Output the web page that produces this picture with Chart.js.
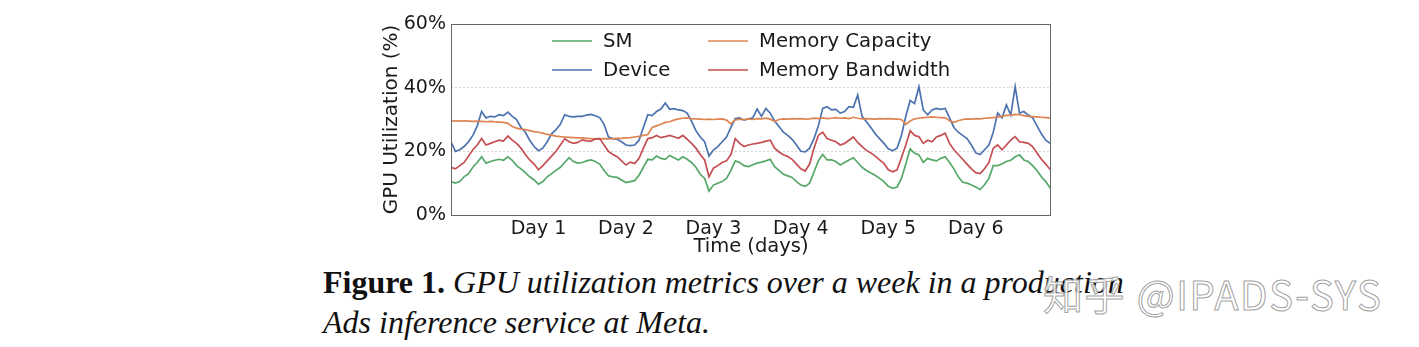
<!DOCTYPE html>
<html>
<head>
<meta charset="utf-8">
<script src="https://cdn.jsdelivr.net/npm/chart.js@4.4.1/dist/chart.umd.min.js"></script>
<style>
  html, body { margin: 0; padding: 0; background: #fff; width: 1419px; height: 347px; overflow: hidden; }
  #wrap { position: absolute; left: 360px; top: 0; width: 700px; height: 262px; }
  #legend { position: absolute; left: 0; top: 0; width: 1419px; height: 100px; pointer-events: none;
            font-family: "DejaVu Sans", sans-serif; font-size: 19.7px; color: #1a1a1a; }
  .li { position: absolute; white-space: nowrap; line-height: 22px; height: 22px; }
  .sw { position: absolute; left: 0; top: 10px; width: 40px; height: 1.6px; opacity: 0.75; }
  .lt { position: absolute; left: 51px; top: 0; }
  #caption { position: absolute; left: 323px; top: 262px; font-family: "Liberation Serif", "DejaVu Serif", serif;
             font-size: 32px; line-height: 40px; color: #111; white-space: nowrap; }
  #caption b { font-weight: bold; font-style: normal; }
  #caption i { font-style: italic; }
  #wm { position: absolute; left: 1043px; top: 264px; font-size: 40px; white-space: nowrap;
        font-family: "Noto Sans CJK SC", "DejaVu Sans", sans-serif; color: rgba(255,255,255,0.85);
        -webkit-text-stroke: 1px rgba(150,150,150,0.9); letter-spacing: 1.6px; }
</style>
</head>
<body>
<div id="wrap"><canvas id="c" width="700" height="262"></canvas></div>
<div id="legend"></div>
<div id="caption"><b>Figure 1.</b> <i>GPU utilization metrics over a week in a production</i><br><i>Ads inference service at Meta.</i></div>
<div id="wm">知乎 @IPADS-SYS</div>
<script>
// Sample times (days), step 0.05
const timeDays = [
  0,0.05,0.1,0.15,0.2,0.25,0.3,0.35,0.4,0.45,0.5,0.55,0.6,0.65,0.7,0.75,0.8,0.85,0.9,0.95,
  1,1.05,1.1,1.15,1.2,1.25,1.3,1.35,1.4,1.45,1.5,1.55,1.6,1.65,1.7,1.75,1.8,1.85,1.9,1.95,
  2,2.05,2.1,2.15,2.2,2.25,2.3,2.35,2.4,2.45,2.5,2.55,2.6,2.65,2.7,2.75,2.8,2.85,2.9,2.95,
  3,3.05,3.1,3.15,3.2,3.25,3.3,3.35,3.4,3.45,3.5,3.55,3.6,3.65,3.7,3.75,3.8,3.85,3.9,3.95,
  4,4.05,4.1,4.15,4.2,4.25,4.3,4.35,4.4,4.45,4.5,4.55,4.6,4.65,4.7,4.75,4.8,4.85,4.9,4.95,
  5,5.05,5.1,5.15,5.2,5.25,5.3,5.35,5.4,5.45,5.5,5.55,5.6,5.65,5.7,5.75,5.8,5.85,5.9,5.95,
  6,6.05,6.1,6.15,6.2,6.25,6.3,6.35,6.4,6.45,6.5,6.55,6.6,6.65,6.7,6.75,6.8,6.85
];

const smUtil = [
  10.5,10,10.5,12,13,15,16.5,18.3,16.3,16.8,17.2,17.5,17.2,18.3,17.2,15.5,14.5,13.3,12,11,
  9.7,10.5,12,13,14,15,16.5,18,16.8,16.3,16.5,17,17.3,16.8,16,14,12.3,12,11.8,11,
  10.2,10.5,10.8,12.5,15,17.5,17.3,18.5,17.8,17.5,18.7,18,17.3,18.3,17.5,16.5,15,12.8,11.5,7.5,
  9.4,10,10.5,11.5,14,17,16.5,15.5,15.2,15.8,16.3,16.6,17,17.5,15.2,14,12.8,12.3,11.8,10.5,
  9.4,9,10,13.5,17,19,17.3,17.3,16.8,15.7,16.5,17.3,18,16.5,15,14,13.2,12.5,11.5,10.5,
  9,8.4,8.8,11.5,16,20.8,19.4,18.9,16.5,17.8,17.3,17,17.8,18.3,16.5,14.5,12,10.3,10,9.4,
  8.8,8,9.5,11.5,15.5,15.5,16,16.8,17.2,18.3,18.9,17.3,16.8,15.5,14,12,10.5,8.5
];

const deviceUtil = [
  23,20,20.5,21.5,23,25,28,32.5,30.5,31,30.8,31.5,31.2,32.3,31,30,27.5,26,23.5,21.5,
  20.2,21,23,25.5,26.8,28.5,31.5,31,30.8,31,31,31.4,31.6,31.2,30.6,28.5,24.5,24,23.8,23,
  22,21.8,22,23.5,27.5,31.5,31.2,32.5,33.3,35.2,33.2,33.4,33,32.8,32,29.5,26.5,24.5,23,18.5,
  20.4,21.5,23,24.5,27.5,30.3,30.5,29.8,30.2,30.5,33.3,31,33.5,32,29.5,27.8,26,25,23.8,22,
  20,19.8,21,24,28,33.5,34,33,33.2,32,32.5,34,33.8,37.7,31,29.3,27.5,25.5,24,22.5,
  20.8,20.2,21,25,31,36,35,40.3,33,31.5,33,33.5,33.2,33.5,30.5,27.5,26,25,24,22,
  19.5,19,20.5,22,26,32,30.5,34.6,31.4,40.3,32,32.5,31.4,30.5,28,25.5,23.5,22.5
];

const memCapacity = [
  29.5,29.6,29.5,29.6,29.5,29.4,29.5,29.4,29.3,29.4,29.3,29.2,29.1,28.8,27.8,27.3,27.0,26.8,26.5,26.2,
  26,25.7,25.3,25.1,24.8,24.6,24.5,24.4,24.3,24.2,24.2,24.1,24,23.9,23.9,24,23.9,24,24.1,24.1,
  24.2,24.3,24.5,24.7,25,25.3,27.5,28,28.5,29.1,29.3,29.8,30.2,30.4,30.5,30.3,30.2,30.1,30.0,30.1,
  30.0,30.1,30.2,29.8,28.6,29.9,30.1,30.0,30.2,30.0,30.3,30.2,30.4,30.1,29.4,30.0,30.2,30.1,30.3,30.2,
  30.3,30.1,30.2,30.4,30.3,30.5,30.3,30.4,30.6,30.4,30.5,30.3,30.7,30.4,30.2,30.3,30.2,30.1,30.3,30.2,
  30.3,30.2,30.1,30.0,28.5,29.5,30.2,30.4,30.6,30.7,30.8,30.7,30.6,30.5,29.6,29.1,29.6,30.0,30.2,30.1,
  30.3,30.2,30.4,30.5,30.6,30.8,31.0,31.3,31.4,31.6,31.5,31.2,31.0,30.9,30.8,30.7,30.6,30.5
];

const memBandwidth = [
  15,14.5,15.5,16.5,18.5,20.5,22,24,22,22.5,23,23.5,23.2,24.8,23.5,22.5,21,19,17.3,16,
  14.2,15.5,17,18.5,20,22,24,23,22.5,22.8,23.6,23.3,23.2,23.9,24,22,20,19,18.3,17,
  15.7,16.6,16.2,17.8,21,24,24.3,25,24.3,24.6,25,24.6,24.1,25,23.8,22.5,21,19,17.3,12,
  14.7,15.5,16.5,17,19,24,22.5,21.5,22,22.3,22.5,22.8,23.2,23.5,21,19.8,18.9,18.4,17.5,16,
  14.5,13.8,16,21,25,26,24,23.5,23,22,22.5,23.5,24.5,22.8,21.5,20.3,19.5,18.5,17.3,16.2,
  14.2,13.6,14.2,18,22,26.5,25,24.6,22.5,23.5,23,24.5,25,25.7,22.5,20.5,19,17.5,16,14.5,
  13.3,13,14.5,16.5,21,22,20.5,22,23.5,24.6,23,22.8,22.5,21.5,19.5,17.5,16,14.3
];

const seriesNames = ["SM", "Device", "Memory Capacity", "Memory Bandwidth"];
const seriesColors = ["#55A868", "#4C72B0", "#DD8452", "#C44E52"];
const xTickDays = [1, 2, 3, 4, 5, 6];
const yTickValues = [0, 20, 40, 60];
const xMax = 6.86;

const seriesData = [smUtil, deviceUtil, memCapacity, memBandwidth];
const toPts = arr => arr.map((v, i) => ({ x: timeDays[i], y: v }));

const datasets = seriesData.map((arr, k) => ({
  label: seriesNames[k],
  data: toPts(arr),
  borderColor: seriesColors[k],
  backgroundColor: seriesColors[k],
  borderWidth: 1.7,
  pointRadius: 0,
  tension: 0,
  order: seriesData.length - k
}));

const frame = {
  id: 'frame',
  afterDatasetsDraw(chart) {
    const a = chart.chartArea, ctx = chart.ctx;
    ctx.save();
    ctx.strokeStyle = '#666';
    ctx.lineWidth = 1;
    ctx.strokeRect(Math.round(a.left) + 0.5, Math.round(a.top) + 0.5,
                   Math.round(a.right - a.left) - 1, Math.round(a.bottom - a.top));
    ctx.restore();
  }
};

const FONT = "'DejaVu Sans', sans-serif";
new Chart(document.getElementById('c'), {
  type: 'line',
  data: { datasets },
  options: {
    responsive: false,
    animation: false,
    layout: { padding: { top: 24, right: 9, left: 0, bottom: 0 } },
    plugins: { legend: { display: false }, tooltip: { enabled: false } },
    scales: {
      x: {
        type: 'linear', min: 0, max: xMax,
        afterFit: s => { s.height = 47; },
        afterBuildTicks: s => { s.ticks = xTickDays.map(v => ({ value: v })); },
        ticks: { color: '#1a1a1a', font: { family: FONT, size: 19 }, padding: 3, maxRotation: 0,
                 callback: v => 'Day ' + v },
        grid: { display: false, drawTicks: false },
        border: { display: false },
        title: { display: true, text: 'Time (days)', color: '#1a1a1a',
                 font: { family: FONT, size: 19.5 }, padding: { top: 0, bottom: 3 } }
      },
      y: {
        min: 0, max: 60,
        afterFit: s => { s.width = 91; },
        afterBuildTicks: s => { s.ticks = yTickValues.map(v => ({ value: v })); },
        ticks: { color: '#1a1a1a', font: { family: FONT, size: 19 }, padding: 5,
                 callback: v => v + '%' },
        grid: { color: '#cccccc', lineWidth: 0.8, drawTicks: false },
        border: { display: false, dash: [2, 2] },
        title: { display: true, text: 'GPU Utilization (%)', color: '#1a1a1a',
                 font: { family: FONT, size: 20 }, padding: { top: 20, bottom: 0 } }
      }
    }
  },
  plugins: [frame]
});

const ch = Chart.getChart('c');
ch.options.scales.y.grid.borderDash = [2, 2];
ch.update('none');

// HTML legend, 2 columns (column-major like matplotlib)
const legendPos = [
  { left: 552, top: 30 }, { left: 552, top: 59 },
  { left: 708, top: 30 }, { left: 708, top: 59 }
];
const lg = document.getElementById('legend');
seriesNames.forEach((n, k) => {
  const d = document.createElement('div');
  d.className = 'li';
  d.style.left = legendPos[k].left + 'px';
  d.style.top = legendPos[k].top + 'px';
  d.innerHTML = '<span class="sw" style="background:' + seriesColors[k] + '"></span><span class="lt">' + n + '</span>';
  lg.appendChild(d);
});
</script>
</body>
</html>
